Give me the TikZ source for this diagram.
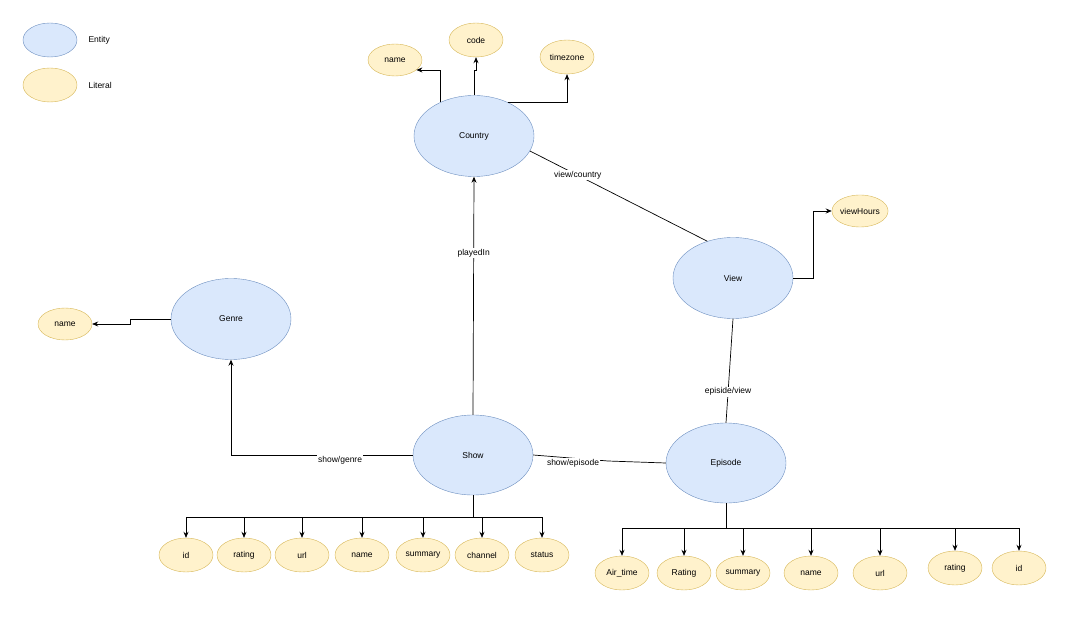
\documentclass[tikz,border=0pt]{standalone}
\usepackage{fontspec}
\setmainfont{Liberation Sans}
\usetikzlibrary{shapes.geometric,arrows.meta}
\definecolor{bf}{HTML}{DAE8FC}\definecolor{bs}{HTML}{6C8EBF}
\definecolor{yf}{HTML}{FFF2CC}\definecolor{ys}{HTML}{D6B656}
\begin{document}
\begin{tikzpicture}[x=1pt,y=-1pt,font=\fontsize{8.5}{10}\selectfont,
 ent/.style={ellipse,draw=bs,fill=bf,inner sep=0,minimum width=120pt,minimum height=81pt},
 lit/.style={ellipse,draw=ys,fill=yf,inner sep=0,minimum width=54pt,minimum height=34pt},
 a/.style={-{Stealth[length=6pt,width=5pt]},line width=0.7pt},
 l/.style={line width=0.7pt},
 lab/.style={fill=white,inner sep=1pt}]
\useasboundingbox (0,0) rectangle (1065,620);
\node[ent,minimum width=54pt,minimum height=34pt] (LE) at (50,40) {};
\node[lit] (LL) at (50,85) {};
\node[anchor=west] (tE) at (85,40) {Entity};
\node[anchor=west] (tL) at (85,85) {Literal};
\node[ent] (Country) at (474,136) {Country};
\node[lit,minimum height=32pt] (CName) at (395,60) {name};
\node[lit] (Code) at (476,40) {code};
\node[lit] (TZ) at (567,57) {timezone};
\node[ent] (View) at (733,278) {View};
\node[lit,minimum height=32pt] (VH) at (860,211) {viewHours};
\node[ent] (Genre) at (231,319) {Genre};
\node[lit,minimum height=32pt] (GName) at (65,324) {name};
\node[ent,minimum height=80pt] (Show) at (473,455) {Show};
\node[ent,minimum height=80pt] (Episode) at (726,463) {Episode};
\foreach \n/\t/\x in {s1/id/186,s2/rating/244,s3/url/302,s4/name/362,s5/summary/423,s6/channel/482,s7/status/542}
  \node[lit] (\n) at (\x,555) {\t};
\foreach \n/\t/\x/\y in {e1/Air\_time/622/573,e2/Rating/684/573,e3/summary/743/573,e4/name/811/573,e5/url/880/573,e6/rating/955/568,e7/id/1019/568}
  \node[lit] (\n) at (\x,\y) {\t};
\draw[a] (Country.135) |- (CName.-25);
\draw[a] (Country.north) -- ++(0,-25) -| (Code.south);
\draw[a] (Country.45) -| (TZ.south);
\draw[a] (Show.north) -- (Country.south) node[lab,pos=0.68] {playedIn};
\draw[l] (Country.-15) -- (View.125) node[lab,pos=0.27] {view/country};
\draw[a] (View.east) -- ++(20,0) |- (VH.west);
\draw[l] (Episode.north) -- (View.south) node[lab,pos=0.3] {episide/view};
\draw[l] (Show.east) -- (608,461) -- (Episode.west);
\node[lab] (lse) at (573,463) {show/episode};
\draw[a] (Show.west) -| (Genre.south) node[lab,pos=0.2,yshift=-5pt] {show/genre};
\draw[a] (Genre.west) -- ++(-40,0) |- (GName.east);
\coordinate (sb) at (473,517);
\draw[l] (Show.south) -- (sb);
\draw[l] (s1.north |- sb) -- (s7.north |- sb);
\foreach \n in {s1,s2,s3,s4,s5,s6,s7} \draw[a] (\n.north |- sb) -- (\n.north);
\coordinate (eb) at (726,528);
\draw[l] (Episode.south) -- (eb);
\draw[l] (e1.north |- eb) -- (e7.north |- eb);
\foreach \n in {e1,e2,e3,e4,e5,e6,e7} \draw[a] (\n.north |- eb) -- (\n.north);
\end{tikzpicture}
\end{document}
